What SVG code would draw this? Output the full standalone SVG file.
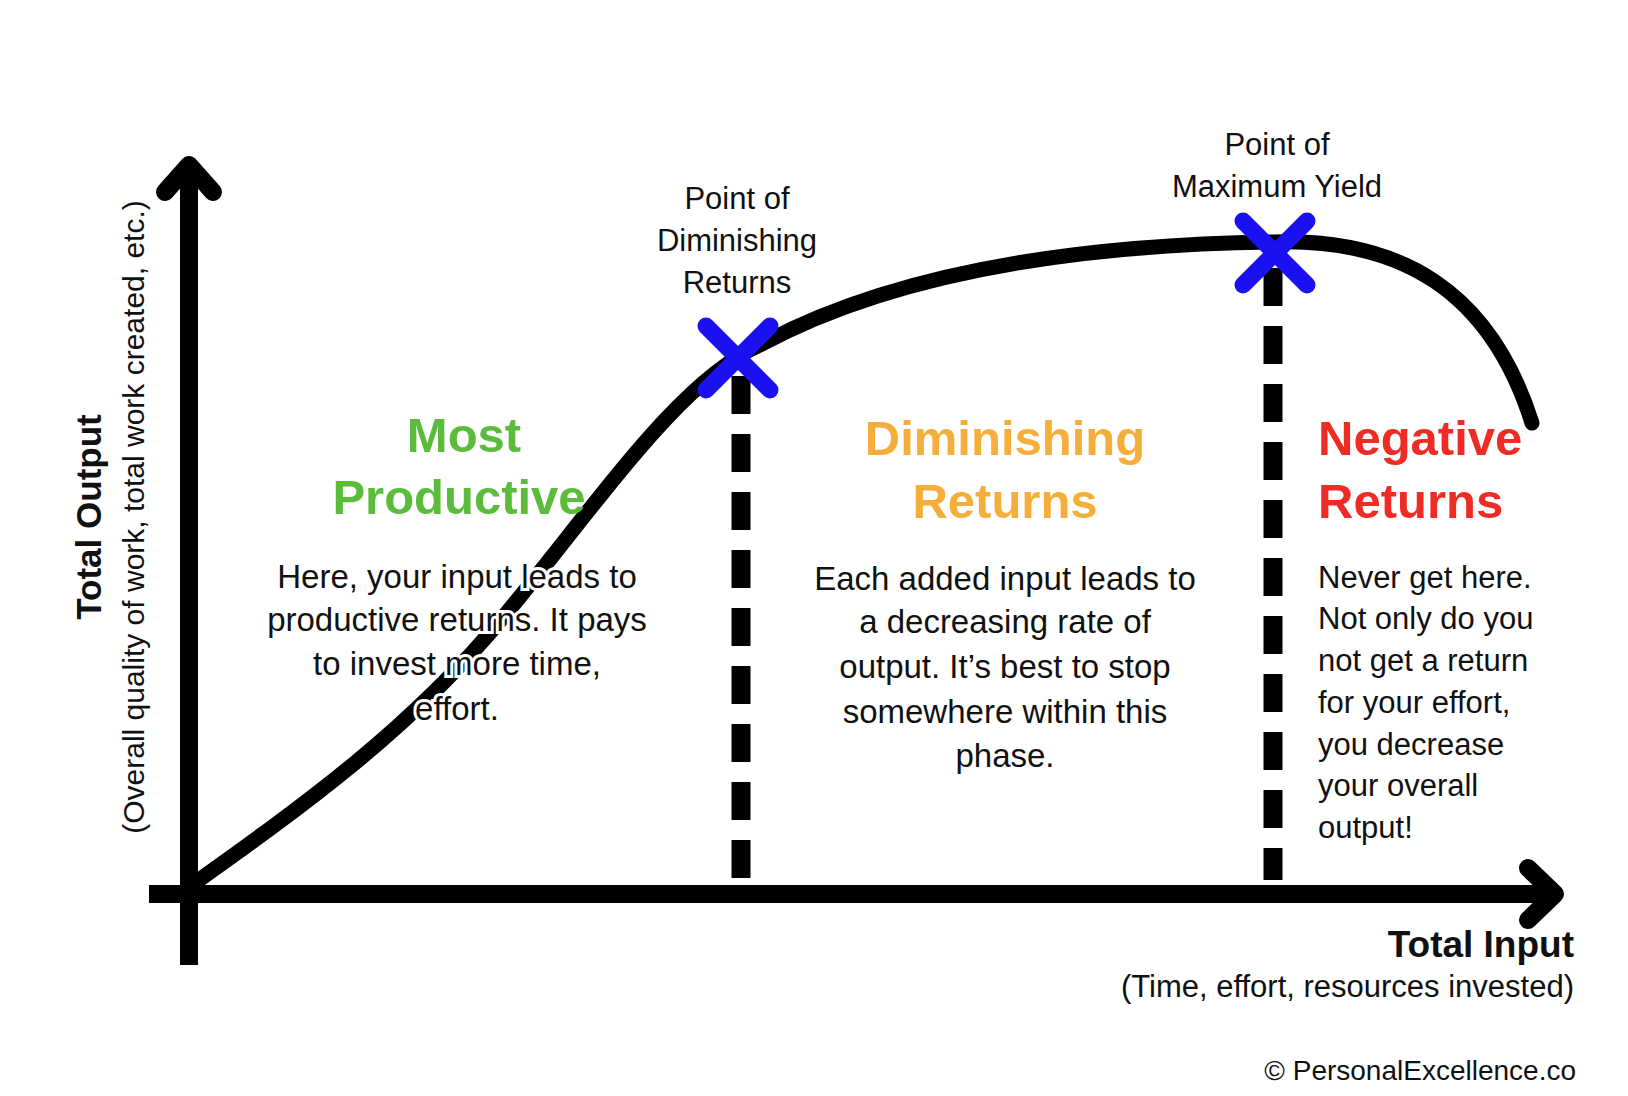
<svg xmlns="http://www.w3.org/2000/svg" width="1628" height="1096" viewBox="0 0 1628 1096">
<style>
text{font-family:"Liberation Sans",Arial,sans-serif;fill:#111}
.lbl{font-size:31px;text-anchor:middle}
.head{font-size:49px;font-weight:bold;text-anchor:middle}
.body{font-size:33px;text-anchor:middle}
.x{stroke:#1a10f0;stroke-width:17;stroke-linecap:round}
.dash{stroke:#000;stroke-width:19;stroke-dasharray:38 20;stroke-linecap:butt}
</style>
<rect width="1628" height="1096" fill="#fff"/>
<g id="connectors" fill="none" stroke="#000" stroke-linecap="round" stroke-linejoin="round">
<line x1="189" y1="965" x2="189" y2="168" stroke-width="18" stroke-linecap="butt"/>
<polyline points="165,192 189,165 213,192" stroke-width="18"/>
<line x1="149" y1="894" x2="1555" y2="894" stroke-width="18" stroke-linecap="butt"/>
<polyline points="1528,868 1555,894 1528,920" stroke-width="18"/>
<path d="M189,887 C300,808 410,730 505,615 S680,380 760,345 C880,280 1050,245 1273,242 C1400,238 1490,290 1532,423" stroke-width="15"/>
<line class="dash" x1="741" y1="376" x2="741" y2="880"/>
<line class="dash" x1="1273" y1="268" x2="1273" y2="880"/>
</g>
<g id="pdr"><line class="x" x1="706" y1="326" x2="770" y2="390"/><line class="x" x1="770" y1="326" x2="706" y2="390"/>
<text class="lbl" x="737" y="209">Point of</text><text class="lbl" x="737" y="251">Diminishing</text><text class="lbl" x="737" y="293">Returns</text></g>
<g id="pmy"><line class="x" x1="1243" y1="221" x2="1307" y2="285"/><line class="x" x1="1307" y1="221" x2="1243" y2="285"/>
<text class="lbl" x="1277" y="155">Point of</text><text class="lbl" x="1277" y="197">Maximum Yield</text></g>
<g id="most"><text class="head" x="464" y="452" style="fill:#5bbb3a">Most</text><text class="head" x="459" y="514" style="fill:#5bbb3a">Productive</text>
<g style="stroke:#fff;stroke-width:6;paint-order:stroke"><text class="body" x="457" y="588">Here, your input leads to</text><text class="body" x="457" y="631">productive returns. It pays</text><text class="body" x="457" y="675">to invest more time,</text><text class="body" x="457" y="720">effort.</text></g></g>
<g id="dim"><text class="head" x="1005" y="455" style="fill:#f5ae3a">Diminishing</text><text class="head" x="1005" y="518" style="fill:#f5ae3a">Returns</text>
<text class="body" x="1005" y="590">Each added input leads to</text><text class="body" x="1005" y="633">a decreasing rate of</text><text class="body" x="1005" y="678">output. It’s best to stop</text><text class="body" x="1005" y="723">somewhere within this</text><text class="body" x="1005" y="767">phase.</text></g>
<g id="neg"><text class="head" x="1318" y="455" style="fill:#ee2b25;text-anchor:start">Negative</text><text class="head" x="1318" y="518" style="fill:#ee2b25;text-anchor:start">Returns</text>
<g style="font-size:31px"><text x="1318" y="588">Never get here.</text><text x="1318" y="629">Not only do you</text><text x="1318" y="671">not get a return</text><text x="1318" y="713">for your effort,</text><text x="1318" y="755">you decrease</text><text x="1318" y="796">your overall</text><text x="1318" y="838">output!</text></g></g>
<g id="yaxis"><text transform="translate(101,517) rotate(-90)" style="font-size:35px;font-weight:bold;text-anchor:middle">Total Output</text>
<text transform="translate(144,517) rotate(-90)" style="font-size:30px;text-anchor:middle">(Overall quality of work, total work created, etc.)</text></g>
<g id="xaxis"><text x="1574" y="957" style="font-size:37px;font-weight:bold;text-anchor:end">Total Input</text>
<text x="1574" y="997" style="font-size:31px;text-anchor:end">(Time, effort, resources invested)</text></g>
<text x="1576" y="1080" style="font-size:28px;text-anchor:end">© PersonalExcellence.co</text>
</svg>
